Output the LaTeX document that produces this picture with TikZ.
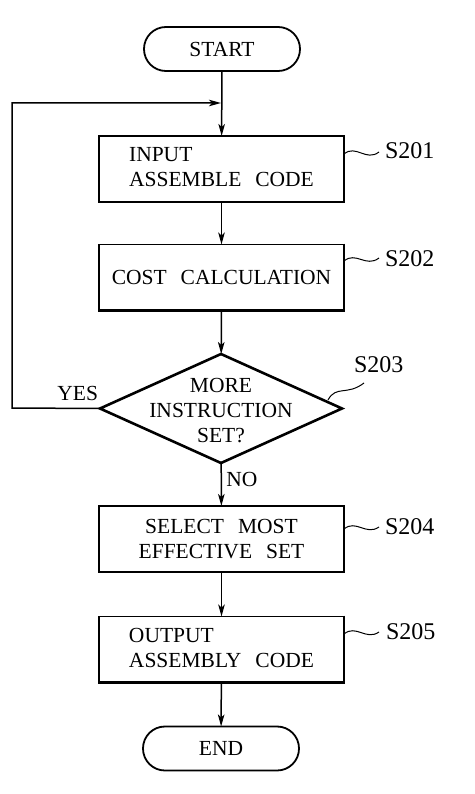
\documentclass[tikz,border=0pt]{standalone}
\usepackage{fontspec}
\setmainfont{Liberation Serif}
\usetikzlibrary{shapes.geometric,arrows.meta}
\newcommand{\wsp}{\hspace{0.65em}}
\begin{document}
\begin{tikzpicture}[x=1pt,y=-1pt,
  every node/.style={inner sep=0pt, outer sep=0pt},
  txt/.style={font=\fontsize{21.5}{25}\selectfont},
  stepbox/.style={draw, line width=1.8pt, minimum width=245pt, minimum height=66pt, txt, align=center},
  term/.style={draw, line width=1.8pt, rounded corners=21.9pt, minimum width=156pt, minimum height=44pt, txt},
  decision/.style={draw, diamond, line width=2.6pt, minimum width=242pt, minimum height=109pt},
  steplabel/.style={font=\fontsize{24}{28}\selectfont, anchor=west},
  flow/.style={line width=1.5pt, -{Stealth[length=12pt,width=6.5pt,inset=3pt]}},
  squig/.style={line width=1pt}]
\useasboundingbox (0,0) rectangle (474,794);

\node[term] (start) at (222,49) {START};
\node[stepbox] (s201) at (221.5,169) {\begin{tabular}{@{}l@{}}INPUT\\ASSEMBLE\wsp CODE\end{tabular}};
\node[stepbox] (s202) at (221.5,277.5) {COST\wsp CALCULATION};
\node[decision] (s203) at (221,408.5) {};
\node[txt, align=center] (s203t) at (221,411) {MORE\\INSTRUCTION\\SET?};
\node[stepbox] (s204) at (221.5,539) {SELECT\wsp MOST\\EFFECTIVE\wsp SET};
\node[stepbox] (s205) at (221.5,649.5) {\begin{tabular}{@{}l@{}}OUTPUT\\ASSEMBLY\wsp CODE\end{tabular}};
\node[term] (end) at (221,748.5) {END};

% thicker right and bottom edges of the boxes
\foreach \n in {s201,s202,s204,s205}{
  \draw[line width=2.8pt] ([yshift=0.9pt]\n.north east) -- (\n.south east) -- ([xshift=-0.9pt]\n.south west);
}

% step labels
\node[steplabel] (l201) at (385,151) {S201};
\node[steplabel] (l202) at (385,259) {S202};
\node[steplabel] (l203) at (354,365) {S203};
\node[steplabel] (l204) at (385,527) {S204};
\node[steplabel] (l205) at (386,632) {S205};

\coordinate (q201a) at (s201.east |- 0,154);
\coordinate (q201b) at (379,152);
\draw[squig] (q201a) .. controls (356,144) and (366,162) .. (q201b);
\coordinate (q202a) at (s202.east |- 0,261);
\coordinate (q202b) at (379,258);
\draw[squig] (q202a) .. controls (356,251) and (366,268) .. (q202b);
\coordinate (q204a) at (s204.east |- 0,529);
\coordinate (q204b) at (379,527);
\draw[squig] (q204a) .. controls (356,519) and (366,536) .. (q204b);
\coordinate (q205a) at (s205.east |- 0,634);
\coordinate (q205b) at (379,632);
\draw[squig] (q205a) .. controls (356,624) and (366,641) .. (q205b);
\coordinate (q203a) at (328,400);
\coordinate (q203b) at (364,383);
\draw[squig] (q203a) .. controls (336,385) and (347,396) .. (q203b);

% connectors
\coordinate (merge) at (221,103);
\coordinate (loopL) at (12,408);
\coordinate (loopT) at (12,103);
\draw[flow] (start) -- (s201);
\draw[flow] (s201) -- (s202);
\draw[flow] (s202) -- (s203);
\draw[flow] (s203) -- node[pos=0.38, anchor=west, xshift=5pt, txt] (no) {NO} (s204);
\draw[flow] (s204) -- (s205);
\draw[flow] (s205) -- (end);
\draw[flow] (s203.west) -- (loopL) -- (loopT) -- (merge);
\node[txt, anchor=south east] (yes) at (98,401) {YES};
\end{tikzpicture}
\end{document}
